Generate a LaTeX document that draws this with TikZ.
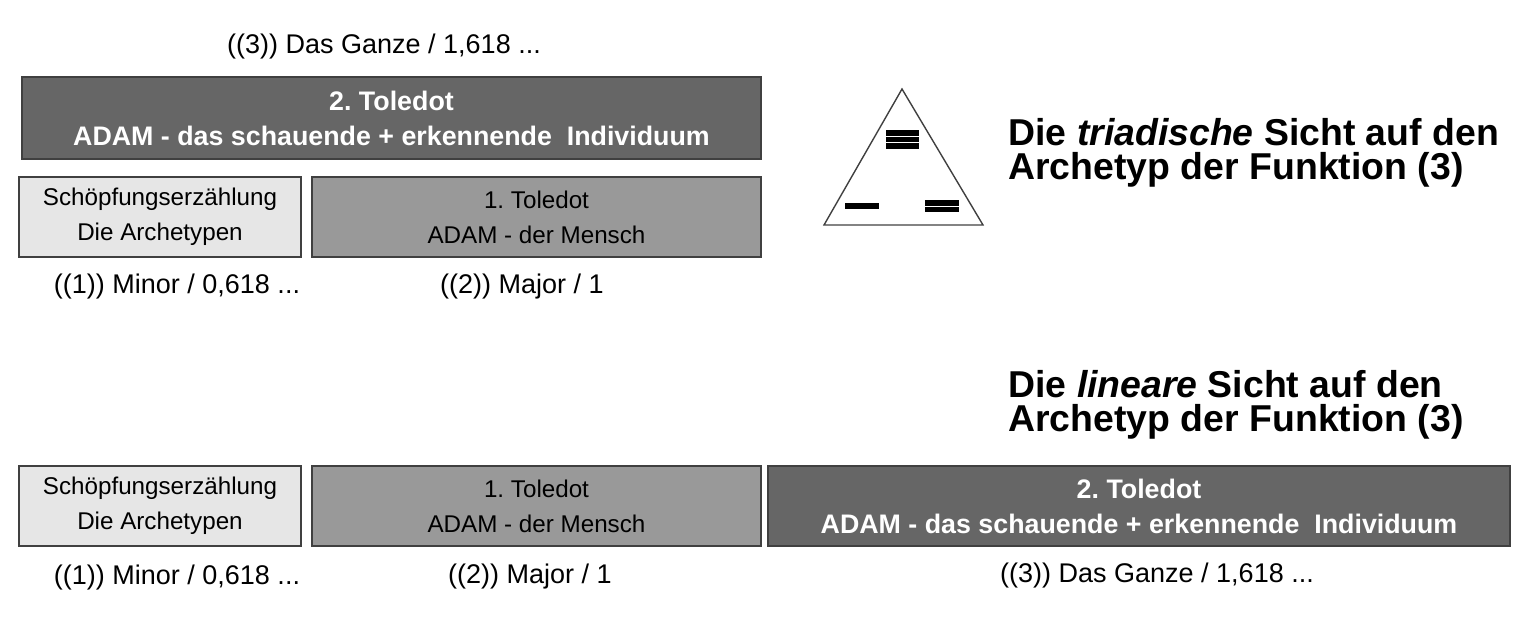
\documentclass[tikz,border=0pt]{standalone}
\usepackage{fontspec}
\setmainfont{Liberation Sans}
\usetikzlibrary{positioning}
\frenchspacing

\definecolor{dunkel}{HTML}{666666}
\definecolor{mittel}{HTML}{999999}
\definecolor{hell}{HTML}{E6E6E6}
\definecolor{rand}{HTML}{404040}

\tikzset{
	feld/.style={draw=rand, line width=.9pt, rectangle, align=center, inner sep=0pt, minimum height=40pt},
	feldhell/.style={feld, fill=hell, font=\fontsize{12.1}{17.5}\selectfont},
	feldmittel/.style={feld, fill=mittel, font=\fontsize{12.1}{17.5}\selectfont},
	felddunkel/.style={feld, fill=dunkel, text=white, font=\bfseries\fontsize{13.4}{17.5}\selectfont},
	zahl/.style={font=\fontsize{13.5}{15}\selectfont},
	titel/.style={anchor=west, align=left, inner sep=0pt, font=\bfseries\fontsize{18.7}{17}\selectfont},
	balken/.style={line width=2.8pt}
}

\begin{document}
\begin{tikzpicture}[x=.5pt, y=-.5pt]
	\useasboundingbox (0,0) rectangle (1536,618);

	% triadische Sicht
	\node[zahl] (ganzeA) at (384,47) {((3)) Das Ganze / 1,618 ...};
	\node[felddunkel, minimum width=369.5pt, minimum height=41pt] (toledotZweiA) at (391.5,118)
		{2. Toledot\\ADAM - das schauende + erkennende\ \ Individuum};
	\node[feldhell, minimum width=141pt] (schoepfungA) at (160,217) {Schöpfungserzählung\\Die Archetypen};
	\node[feldmittel, minimum width=224.5pt] (toledotEinsA) at (536.5,217) {1. Toledot\\ADAM - der Mensch};
	\node[zahl] (minorA) at (177,287) {((1)) Minor / 0,618 ...};
	\node[zahl] (majorA) at (522,287) {((2)) Major / 1};

	\begin{scope}
		\coordinate (spitze) at (902,89);
		\coordinate (linksU) at (824,225);
		\coordinate (rechtsU) at (983,225);
		\draw[draw=rand, line width=.7pt] (spitze) -- (linksU) -- (rechtsU) -- cycle;
		\foreach \y in {133,139.5,146}
			\draw[balken] (886,\y) -- (919,\y);
		\foreach \y in {203,209.5}
			\draw[balken] (925,\y) -- (959,\y);
		\draw[balken] (845,206) -- (879,206);
	\end{scope}

	\node[titel] (titelA) at (1008,153) {Die \textit{triadische} Sicht auf den\\Archetyp der Funktion (3)};

	% lineare Sicht
	\node[titel] (titelB) at (1008,405) {Die \textit{lineare} Sicht auf den\\Archetyp der Funktion (3)};

	\node[feldhell, minimum width=141pt] (schoepfungB) at (160,506) {Schöpfungserzählung\\Die Archetypen};
	\node[feldmittel, minimum width=224.5pt] (toledotEinsB) at (536.5,506) {1. Toledot\\ADAM - der Mensch};
	\node[felddunkel, minimum width=371pt] (toledotZweiB) at (1139,506)
		{2. Toledot\\ADAM - das schauende + erkennende\ \ Individuum};
	\node[zahl] (minorB) at (177,577) {((1)) Minor / 0,618 ...};
	\node[zahl] (majorB) at (530,577) {((2)) Major / 1};
	\node[zahl] (ganzeB) at (1157,575) {((3)) Das Ganze / 1,618 ...};
\end{tikzpicture}
\end{document}
